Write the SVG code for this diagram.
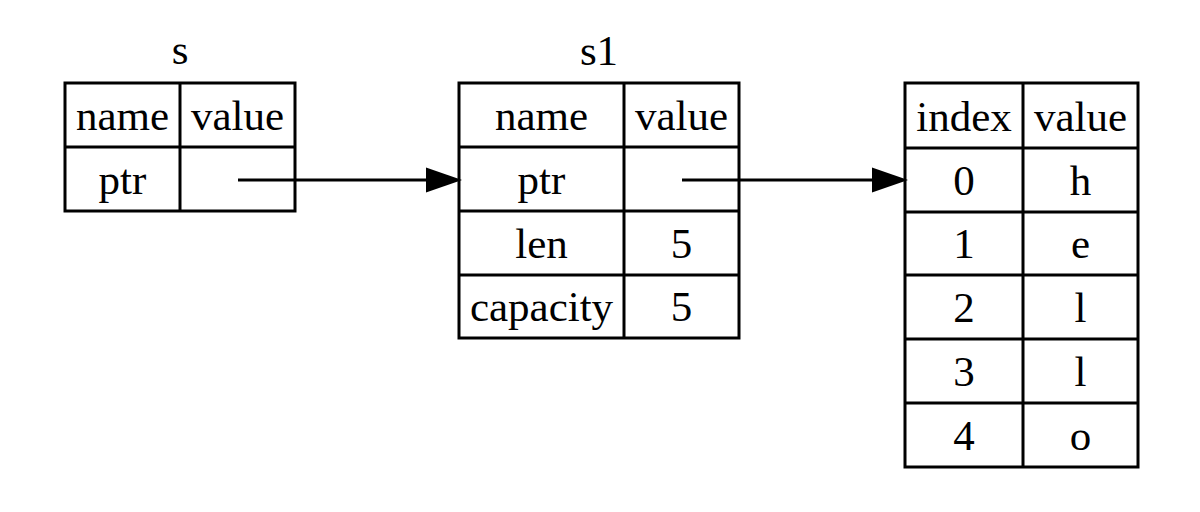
<svg xmlns="http://www.w3.org/2000/svg" width="1200" height="512" viewBox="0 0 1200 512">
<style>
.cell{fill:none;stroke:#000;stroke-width:3}
.t{font-family:"Liberation Serif","Times New Roman",serif;font-size:43px;fill:#000;text-anchor:middle}
.edge{stroke:#000;stroke-width:3;fill:none}
</style>
<rect width="1200" height="512" fill="#fff"/>
<g id="s">
<text class="t" x="180" y="64">s</text>
<rect class="cell" x="65" y="83" width="230" height="128"/>
<line class="cell" x1="180" y1="83" x2="180" y2="211"/>
<line class="cell" x1="65" y1="147" x2="295" y2="147"/>
<text class="t" x="122.5" y="130">name</text>
<text class="t" x="237.5" y="130">value</text>
<text class="t" x="122.5" y="194">ptr</text>
</g>
<g id="s1">
<text class="t" x="599" y="65">s1</text>
<rect class="cell" x="459" y="83" width="280" height="255"/>
<line class="cell" x1="624" y1="83" x2="624" y2="338"/>
<line class="cell" x1="459" y1="147" x2="739" y2="147"/>
<line class="cell" x1="459" y1="211" x2="739" y2="211"/>
<line class="cell" x1="459" y1="275" x2="739" y2="275"/>
<text class="t" x="541.5" y="130">name</text>
<text class="t" x="681.5" y="130">value</text>
<text class="t" x="541.5" y="194">ptr</text>
<text class="t" x="541.5" y="258">len</text>
<text class="t" x="681.5" y="258">5</text>
<text class="t" x="541.5" y="321">capacity</text>
<text class="t" x="681.5" y="321">5</text>
</g>
<g id="heap">
<rect class="cell" x="905" y="83" width="233" height="384"/>
<line class="cell" x1="1023" y1="83" x2="1023" y2="467"/>
<line class="cell" x1="905" y1="148" x2="1138" y2="148"/>
<line class="cell" x1="905" y1="212" x2="1138" y2="212"/>
<line class="cell" x1="905" y1="275" x2="1138" y2="275"/>
<line class="cell" x1="905" y1="339" x2="1138" y2="339"/>
<line class="cell" x1="905" y1="403" x2="1138" y2="403"/>
<text class="t" x="964" y="131">index</text>
<text class="t" x="1080.5" y="131">value</text>
<text class="t" x="964" y="195">0</text>
<text class="t" x="1080.5" y="195">h</text>
<text class="t" x="964" y="258">1</text>
<text class="t" x="1080.5" y="258">e</text>
<text class="t" x="964" y="322">2</text>
<text class="t" x="1080.5" y="322">l</text>
<text class="t" x="964" y="386">3</text>
<text class="t" x="1080.5" y="386">l</text>
<text class="t" x="964" y="450">4</text>
<text class="t" x="1080.5" y="450">o</text>
</g>
<g id="connectors">
<line class="edge" x1="238" y1="180" x2="428" y2="180"/>
<polygon points="426,167.5 462,180 426,192.5" fill="#000"/>
<line class="edge" x1="682" y1="180" x2="874" y2="180"/>
<polygon points="872,167.5 908,180 872,192.5" fill="#000"/>
</g>
</svg>
